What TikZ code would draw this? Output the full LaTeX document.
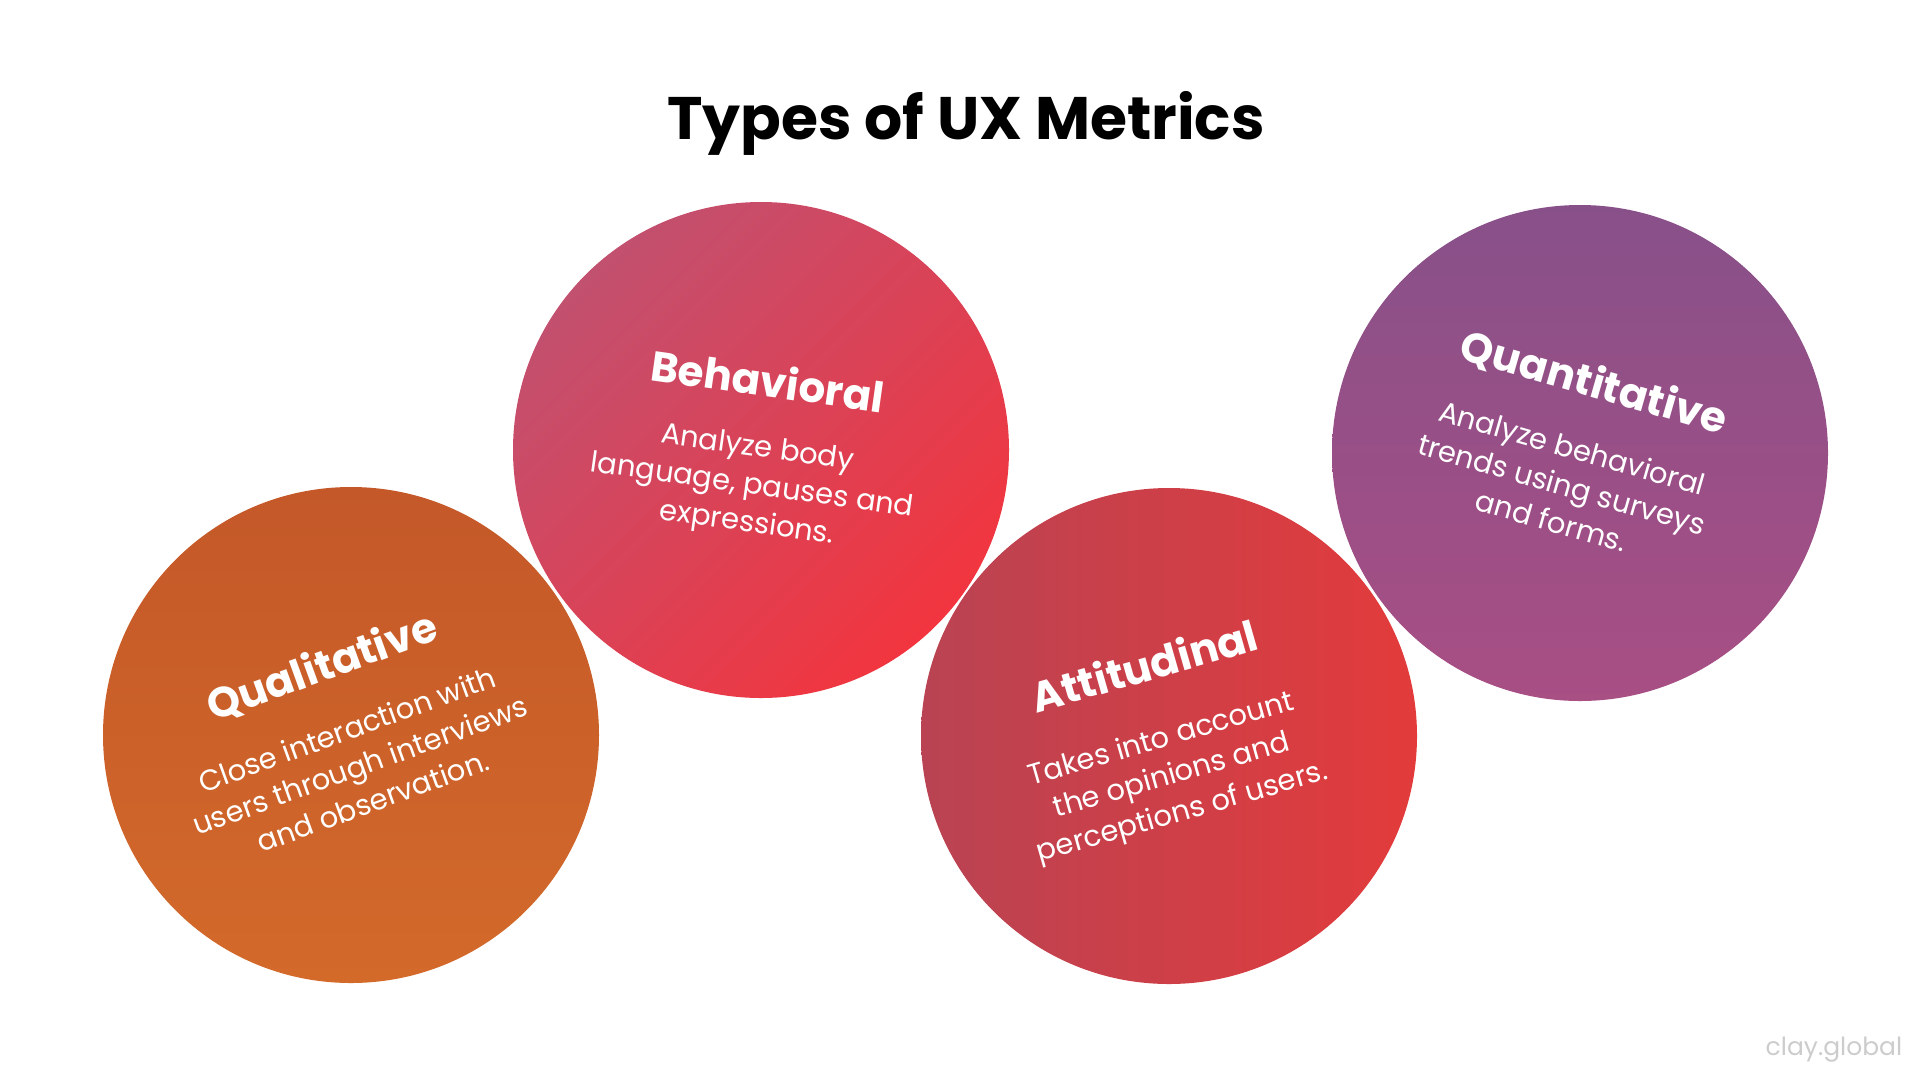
\documentclass[tikz,border=0pt]{standalone}
\usepackage{fontspec}
\setmainfont{Poppins}
\definecolor{qualtop}{HTML}{C45829}
\definecolor{qualbot}{HTML}{D36A2A}
\definecolor{behavtop}{HTML}{C2506F}
\definecolor{behavbot}{HTML}{F2353F}
\definecolor{attleft}{HTML}{B94353}
\definecolor{attright}{HTML}{E33B3B}
\definecolor{quanttop}{HTML}{885089}
\definecolor{quantbot}{HTML}{A84F84}
\tikzset{
  metric/.style={circle,minimum size=496pt,inner sep=0pt},
  headtext/.style={text=white,font=\fontsize{42}{46}\selectfont\bfseries},
  bodytext/.style={text=white,align=center,font=\fontsize{29}{38}\selectfont}
}
\begin{document}
\begin{tikzpicture}[x=1pt,y=-1pt]
\useasboundingbox (0,0) rectangle (1920,1080);
\node (title) at (966,123) {\fontsize{60}{70}\selectfont\bfseries Types of UX Metrics};
\node[metric,top color=qualtop,bottom color=qualbot] (qual) at (351,735) {};
\node[metric,shading=axis,left color=behavtop,right color=behavbot,shading angle=45] (behav) at (761,450) {};
\node[metric,left color=attleft,right color=attright] (att) at (1169,736) {};
\node[metric,top color=quanttop,bottom color=quantbot] (quant) at (1580,453) {};
% labels
\node[headtext,rotate=20] (qualhead) at (322,667) {Qualitative};
\node[bodytext,rotate=20] (qualbody) at (360,765) {Close interaction with\\users through interviews\\and observation.};
\node[headtext,rotate=-8] (behavhead) at (768,380) {Behavioral};
\node[bodytext,rotate=-8] (behavbody) at (752,487) {Analyze body\\language, pauses and\\expressions.};
\node[headtext,rotate=16] (atthead) at (1144,665) {Attitudinal};
\node[bodytext,rotate=16] (attbody) at (1172,777) {Takes into account\\the opinions and\\perceptions of users.};
\node[headtext,rotate=-16] (quanthead) at (1594,383) {Quantitative};
\node[bodytext,rotate=-16] (quantbody) at (1562,484) {Analyze behavioral\\trends using surveys\\and forms.};
\node[text=black!20,font=\fontsize{25}{30}\selectfont] (mark) at (1834,1050) {clay.global};
\end{tikzpicture}
\end{document}
